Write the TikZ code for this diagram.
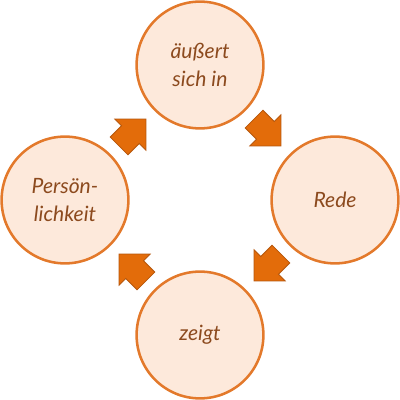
\documentclass[tikz,border=0pt]{standalone}
\usepackage{fontspec}
\setmainfont{Lato}
\usetikzlibrary{calc}
\definecolor{kreisrand}{HTML}{E3792B}
\definecolor{kreisfill}{HTML}{FDE9DB}
\definecolor{pfeilfill}{HTML}{E36C0A}
\definecolor{pfeilrand}{HTML}{B5560C}
\definecolor{schrift}{HTML}{8C4A1E}

\begin{document}
\begin{tikzpicture}[
                x=0.025cm, y=0.025cm,
                kreis/.style={circle, draw=kreisrand, fill=kreisfill, line width=1.8pt,
                    minimum size=3.17cm, inner sep=0pt, align=center,
                    text=schrift, font=\fontsize{15}{20}\selectfont\itshape},
                blockpfeil/.style={draw=pfeilrand, fill=pfeilfill, line width=0.6pt, line join=miter} ]

            \useasboundingbox (0,0) rectangle (400,400);

            \node[kreis] (aeussert) at (200,335) {äußert\\sich in};
            \node[kreis] (rede) at (335,200) {Rede};
            \node[kreis] (zeigt) at (200,65) {zeigt};
            \node[kreis] (pers) at (65,200) {Persön-\\lichkeit};

            \foreach \from/\to/\ang in {pers/aeussert/45, aeussert/rede/-45,
                                        rede/zeigt/-135, zeigt/pers/135} {
                    \draw[blockpfeil, shift={($(\from)!0.5!(\to)$)}, rotate=\ang]
                    (19,0) -- (-3,22) -- (-3,12.5) -- (-19,12.5)
                    -- (-19,-12.5) -- (-3,-12.5) -- (-3,-22) -- cycle;
                }
        \end{tikzpicture}
\end{document}
